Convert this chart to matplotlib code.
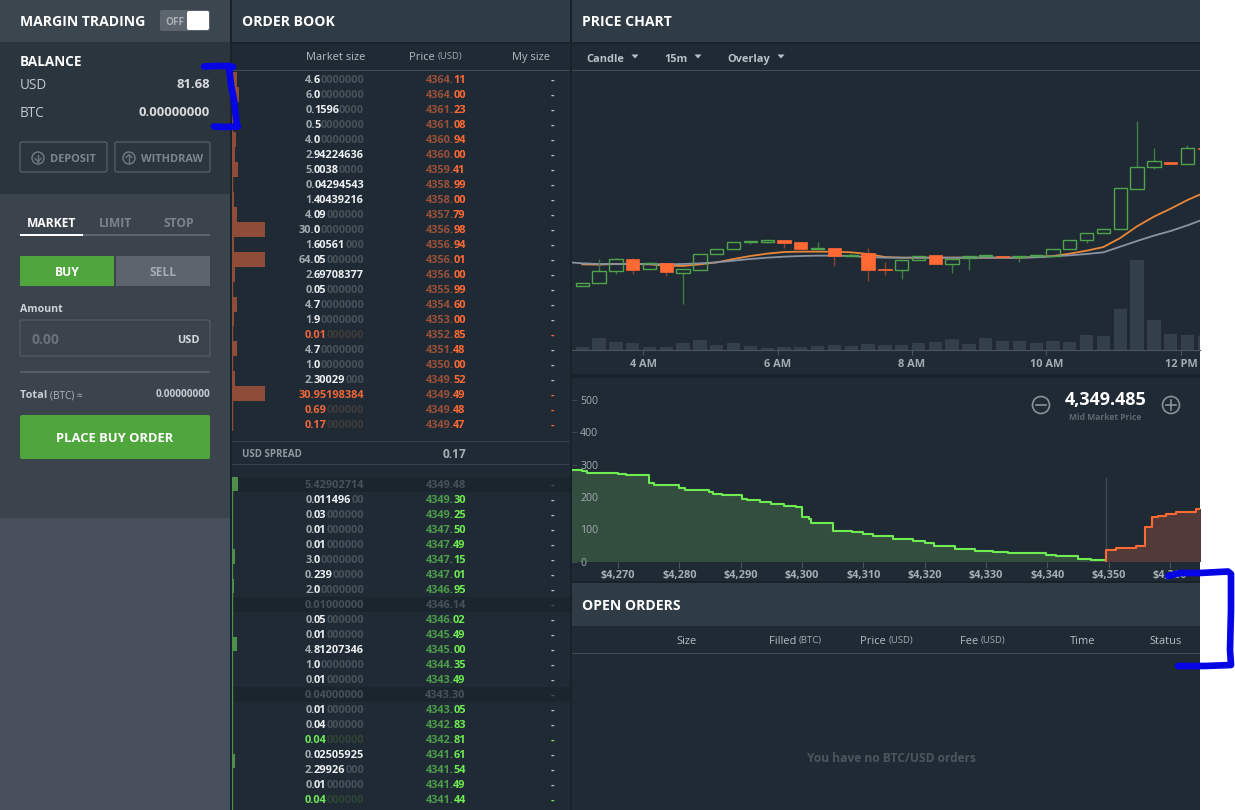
import matplotlib
matplotlib.use("Agg")
import matplotlib.pyplot as plt
from matplotlib.patches import Rectangle, FancyBboxPatch, Circle, Polygon
from matplotlib.font_manager import FontProperties

W, H = 1235, 810
plt.rcParams['font.family'] = ['Open Sans', 'DejaVu Sans']

# ---------- order book data ----------
ask_sizes = ["4.6", "6.0", "0.1596", "0.5", "4.0", "2.94224636", "5.0038", "0.04294543",
             "1.40439216", "4.09", "30.0", "1.60561", "64.05", "2.69708377", "0.05", "4.7",
             "1.9", "0.01", "4.7", "1.0", "2.30029", "30.95198384", "0.69", "0.17"]
ask_prices = ["4364.11", "4364.00", "4361.23", "4361.08", "4360.94", "4360.00", "4359.41", "4358.99",
              "4358.00", "4357.79", "4356.98", "4356.94", "4356.01", "4356.00", "4355.99", "4354.60",
              "4353.00", "4352.85", "4351.48", "4350.00", "4349.52", "4349.49", "4349.48", "4349.47"]
ask_mine = [17, 21, 22, 23]
bid_sizes = ["5.42902714", "0.011496", "0.03", "0.01", "0.01", "3.0", "0.239", "2.0", "0.01", "0.05",
             "0.01", "4.81207346", "1.0", "0.01", "0.04", "0.01", "0.04", "0.04", "0.02505925",
             "2.29926", "0.01", "0.04"]
bid_prices = ["4349.48", "4349.30", "4349.25", "4347.50", "4347.49", "4347.15", "4347.01", "4346.95",
              "4346.14", "4346.02", "4345.49", "4345.00", "4344.35", "4343.49", "4343.30", "4343.05",
              "4342.83", "4342.81", "4341.61", "4341.54", "4341.49", "4341.44"]
bid_mine = [17, 21]
bid_faded = [0, 8, 14]

# ---------- candle data (axis has no printed scale) ----------
candle_hours = [3.097, 3.347, 3.597, 3.847, 4.097, 4.347, 4.597, 4.847, 5.097, 5.347, 5.597, 5.847, 6.097,
                6.347, 6.597, 6.847, 7.097, 7.347, 7.597, 7.847, 8.097, 8.347, 8.597, 8.847, 9.097, 9.347,
                9.597, 9.847, 10.097, 10.347, 10.597, 10.847, 11.097, 11.347, 11.597, 11.847, 12.097, 12.347]
candle_open = [4471, 4481, 4516, 4553, 4522, 4540, 4510, 4521, 4567, 4582, 4603, 4605, 4609, 4603, 4584,
               4585, 4562, 4572, 4522, 4519, 4549, 4564, 4539, 4555, 4561, 4563, 4559, 4561, 4563, 4582,
               4609, 4630, 4643, 4764, 4829, 4845, 4837, 4886]
candle_close = [4482, 4517, 4553, 4521, 4540, 4513, 4522, 4567, 4583, 4603, 4608, 4609, 4602, 4584, 4586,
                4563, 4565, 4521, 4519, 4549, 4563, 4539, 4554, 4563, 4564, 4559, 4563, 4564, 4583, 4609,
                4630, 4644, 4765, 4830, 4846, 4837, 4886, 4884]
candle_high = [4482, 4553, 4556, 4557, 4544, 4540, 4522, 4567, 4583, 4603, 4608, 4609, 4609, 4603, 4603,
               4585, 4571, 4586, 4543, 4549, 4563, 4564, 4557, 4563, 4564, 4563, 4563, 4564, 4583, 4609,
               4630, 4644, 4765, 4967, 4886, 4845, 4895, 4886]
candle_low = [4471, 4481, 4509, 4509, 4522, 4503, 4419, 4521, 4567, 4582, 4599, 4602, 4586, 4582, 4584,
              4533, 4562, 4487, 4505, 4493, 4549, 4539, 4510, 4521, 4561, 4559, 4543, 4561, 4563, 4582,
              4602, 4630, 4643, 4764, 4824, 4837, 4837, 4884]
volumes = [9, 35, 24, 20, 9, 9, 20, 30, 14, 22, 12, 7, 9, 8, 11, 15, 12, 19, 14, 14, 20, 23, 33, 19, 35,
           26, 26, 20, 28, 25, 46, 43, 123, 269, 90, 49, 46, 42]
overlay_orange = [4537, 4536, 4538, 4538, 4537, 4533, 4532, 4537, 4543, 4553, 4562, 4569, 4574, 4575, 4575,
                  4575, 4573, 4568, 4559, 4557, 4557, 4557, 4557, 4557, 4557, 4557, 4557, 4559, 4562, 4569,
                  4578, 4589, 4616, 4651, 4680, 4704, 4730, 4752]
overlay_gray = [4540, 4538, 4538, 4538, 4538, 4537, 4538, 4540, 4543, 4548, 4553, 4557, 4560, 4562, 4563,
                4563, 4562, 4559, 4557, 4557, 4557, 4557, 4557, 4557, 4557, 4557, 4557, 4558, 4561, 4564,
                4568, 4573, 4590, 4607, 4623, 4637, 4654, 4673]
hour_ticks = [4, 6, 8, 10, 12]
hour_labels = ["4 AM", "6 AM", "8 AM", "10 AM", "12 PM"]

# ---------- depth data ----------
bid_levels = [4262.5, 4264.1, 4264.9, 4270.05, 4271.3, 4275.05, 4275.9, 4280, 4280.9, 4284.9, 4285.5, 4287,
              4290.2, 4291, 4293.2, 4295, 4297, 4299, 4300, 4301.2, 4301.4, 4305, 4308.1, 4310, 4311.5,
              4314.8, 4318.1, 4320, 4321.6, 4324.9, 4328.2, 4331.1, 4333.6, 4339.8, 4341.5, 4345, 4347.2, 4349.5]
bid_depth = [283, 279, 275, 271, 267, 244, 237, 228, 223, 215, 210, 205, 194, 190, 184, 177, 173, 169, 139,
             132, 118, 96, 91, 85, 80, 70, 64, 58, 49, 38, 33, 28, 25, 19, 16, 9, 5, 5]
ask_levels = [4349.5, 4351.2, 4354.5, 4356, 4357, 4358, 4359.4, 4361, 4364.2, 4365]
ask_depth = [35, 41, 48, 108, 137, 141, 148, 152, 162, 162]
depth_yticks = [0, 100, 200, 300, 400, 500]
depth_xticks = [4270, 4280, 4290, 4300, 4310, 4320, 4330, 4340, 4350, 4360]

# ---------- colours ----------
BODY = '#1f2a34'; HEAD = '#2f3c45'; DARK = '#18222a'
GREEN_BTN = '#4fa63c'; RED = '#ff6933'; LIME = '#6fec52'
PX = 0.72

fig = plt.figure(figsize=(W / 100, H / 100), dpi=100, facecolor='white')


def axpx(x0, y0, x1, y1, **kw):
    return fig.add_axes([x0 / W, 1 - y1 / H, (x1 - x0) / W, (y1 - y0) / H], **kw)


ui = axpx(0, 0, W, H)
ui.set_xlim(0, W); ui.set_ylim(H, 0); ui.axis('off')
renderer = fig.canvas.get_renderer()


def rect(x0, y0, x1, y1, c, z=1, **kw):
    ui.add_patch(Rectangle((x0, y0), x1 - x0, y1 - y0, facecolor=c, edgecolor='none', zorder=z, **kw))


def rrect(x0, y0, x1, y1, fc='none', ec='none', lw=0.8, r=2, z=2):
    ui.add_patch(FancyBboxPatch((x0 + r, y0 + r), x1 - x0 - 2 * r, y1 - y0 - 2 * r,
                                boxstyle=f"round,pad={r},rounding_size={r}", fc=fc, ec=ec, lw=lw, zorder=z))


def T(x, y, s, px=12, c='white', w='normal', ha='left', z=4):
    return ui.text(x, y, s, fontsize=px * PX, color=c, fontweight=w, ha=ha, va='center_baseline', zorder=z)


def ink(s, px, w):
    fp = FontProperties(family='Open Sans', size=px * PX, weight=w)
    return renderer.get_text_width_height_descent(s, fp, False)[0]


def advance(s, px, w):
    """Horizontal room a string takes, bearings included."""
    if not s:
        return 0.0
    bar = ink("|", px, w)
    bar_adv = ink("||", px, w) - bar
    bearing = (bar_adv - bar) / 2
    return ink(s + "|", px, w) - bar - bearing


def seg_right(xr, y, segs, px=11, w='bold'):
    """Draw coloured pieces so that the whole string ends at xr."""
    whole = "".join(s for s, _ in segs)
    total = advance(whole, px, w)
    done = ""
    for s, c in segs:
        nudge = 0.6 if s.endswith('.') else 0
        T(xr - total + advance(done, px, w) + nudge, y, s, px, c, w)
        done += s


def seg_left(x, y, segs):
    for s, px, c, w in segs:
        T(x, y, s, px, c, w)
        x += advance(s, px, w)


# ---------- panels ----------
rect(232, 0, 1200, H, BODY, 0)
rect(0, 0, 230, 42, '#3c464f')
rect(0, 42, 230, 194, '#2b353e')
rect(0, 194, 230, 518, '#3b444d')
rect(0, 518, 230, H, '#47505a')
rect(230, 0, 232, H, DARK, 2)
rect(570, 0, 572, H, DARK, 2)
rect(232, 0, 570, 42, HEAD)
rect(572, 0, 1200, 42, HEAD)
rect(232, 42, 1200, 44, DARK)
rect(572, 70, 1200, 71, '#414c55')
rect(232, 70, 570, 71, '#414c55')
rect(572, 374, 1200, 378, DARK)
rect(572, 581, 1200, 583, DARK)
rect(572, 583, 1200, 626, HEAD)
rect(572, 653, 1200, 654, '#414c55')
rect(232, 441, 570, 442, '#34404a')
rect(232, 464, 570, 465, '#34404a')

# ---------- left panel ----------
T(20, 21, "MARGIN TRADING", 14, 'white', 'bold')
rrect(160, 10, 210, 31, fc='#5c656e')
T(165, 21, "OFF", 10, '#a9b0b6', 'bold')
rrect(187, 11, 209, 30, fc='white', z=3)
T(20, 61, "BALANCE", 13.5, 'white', 'bold')
T(20, 83.5, "USD", 13.5, '#c3c9ce')
T(210, 83.5, "81.68", 13, '#d8dcdf', 'bold', ha='right')
T(20, 111.5, "BTC", 13.5, '#c3c9ce')
T(210, 111.5, "0.00000000", 13, '#d8dcdf', 'bold', ha='right')
rrect(20, 142, 107, 172, ec='#5e676f')
rrect(115, 142, 210, 172, ec='#5e676f')
for cx, dy in ((38, 1), (129, -1)):
    ui.add_patch(Circle((cx, 158), 6, fc='none', ec='#6e7780', lw=1.1, zorder=3))
    ui.plot([cx, cx], [158 - 3.5, 158 + 3.5], color='#6e7780', lw=1, zorder=3)
    ui.plot([cx - 3, cx, cx + 3], [158 + 0.5 * dy, 158 + 3.5 * dy, 158 + 0.5 * dy], color='#6e7780', lw=1, zorder=3)
T(50, 158, "DEPOSIT", 11, '#7d868e', 'bold')
T(141, 158, "WITHDRAW", 11, '#7d868e', 'bold')
T(27, 222, "MARKET", 12, 'white', 'bold')
T(99, 222, "LIMIT", 12, '#7b848c', 'bold')
T(163, 222, "STOP", 12, '#7b848c', 'bold')
rect(83, 234, 210, 236, '#5c656e', 2)
rect(20, 234, 83, 236, 'white', 2)
rect(20, 256, 114, 286, GREEN_BTN, 2)
rect(116, 256, 210, 286, '#5c656e', 2)
T(67, 271, "BUY", 12, 'white', 'bold', ha='center')
T(163, 271, "SELL", 12, '#a6acb2', 'bold', ha='center')
T(20, 308, "Amount", 10.5, '#d0d5da', 'bold')
rrect(20, 320, 210, 356, ec='#555e66')
T(31, 339, "0.00", 14, '#6b737a', 'bold')
T(200, 339, "USD", 11, '#d5d9dd', 'bold', ha='right')
rect(20, 371, 210, 373, '#555e66', 2)
seg_left(20, 394, [("Total ", 11, '#c7cdd2', 'bold'), ("(BTC) ≈", 10, '#b0b7bd', 'normal')])
T(210, 393, "0.00000000", 10, '#c7cdd2', 'bold', ha='right')
rrect(20, 415, 210, 459, fc=GREEN_BTN)
T(115, 437, "PLACE BUY ORDER", 13, 'white', 'bold', ha='center')

# ---------- order book ----------
T(242, 21, "ORDER BOOK", 14, 'white', 'bold')
T(365, 56, "Market size", 11, '#b6bec5', ha='right')
seg_left(408.7, 56, [("Price ", 11, '#b6bec5', 'normal'), ("(USD)", 9.5, '#a3abb2', 'normal')])
T(550, 56, "My size", 11, '#b6bec5', ha='right')
T(242, 453, "USD SPREAD", 9.8, '#8f99a2', 'bold')
T(466, 453, "0.17", 12, '#a6aeb5', 'bold', ha='right')


def draw_rows(sizes, prices, y0, mine, faded, dim_price, bright_price, mine_col, zero_mine):
    for i, (s, p) in enumerate(zip(sizes, prices)):
        y = y0 + 15 * i
        a, b = s.split('.')
        zeros = '0' * (8 - len(b))
        pa, pb = p.split('.')
        if i in faded:
            rect(232, y - 7.5, 570, y + 7.5, '#1a252e', 1)
            fc = '#46515a'
            seg_right(364, y, [(s + zeros, fc)])
            seg_right(465.7, y, [(p, fc)])
            T(554, y, "-", 11, fc, 'bold', ha='right')
            continue
        if i in mine:
            segs = [(a + '.' + b, mine_col), (zeros, zero_mine)]
            dash = mine_col
        else:
            segs = [(a + '.', '#a4acb3'), (b, '#eef1f3'), (zeros, '#47525b')]
            dash = '#b5bcc2'
        seg_right(364, y, segs)
        seg_right(465.7, y, [(pa + '.', dim_price), (pb, bright_price)])
        T(554, y, "-", 11, dash, 'bold', ha='right')


draw_rows(ask_sizes, ask_prices, 79, ask_mine, [], '#9a5038', RED, '#f0673a', '#3f3c3c')
draw_rows(bid_sizes, bid_prices, 484, bid_mine, bid_faded, '#4e9b4a', LIME, '#6fe858', '#2f4437')

# depth bars beside the book
ax_a = axpx(232, 71.5, 267.7, 431.5)
ax_a.patch.set_alpha(0); ax_a.axis('off')
ax_a.set_xlim(0, 32); ax_a.set_ylim(23.5, -0.5)
ax_a.barh(range(len(ask_sizes)), [min(float(s), 30) for s in ask_sizes], height=1, color='#8f4c38')
ax_a.plot([0.2, 0.2], [-0.5, 23.5], color='#8f4c38', lw=1)

ax_b = axpx(232, 476.5, 267.7, H)
ax_b.patch.set_alpha(0); ax_b.axis('off')
ax_b.set_xlim(0, 32); ax_b.set_ylim(22.37, -0.5)
ax_b.barh(range(len(bid_sizes)), [min(float(s), 30) for s in bid_sizes], height=1, color='#4e8f4c')
ax_b.plot([0.2, 0.2], [-0.5, 22.37], color='#4e8f4c', lw=1)

# ---------- toolbar ----------
T(582, 21, "PRICE CHART", 14, 'white', 'bold')
for x, s, tx in ((586, "Candle", 635), (664, "15m", 698), (727, "Overlay", 781)):
    T(x, 58, s, 11, '#b8c2ca', 'bold')
    ui.add_patch(Polygon([(tx - 3.5, 54.5), (tx + 3.5, 54.5), (tx, 58.5)], fc='#b8c2ca', ec='none', zorder=4))

# ---------- candle chart ----------
ax_v = axpx(572, 71, 1200, 350)
ax_v.patch.set_alpha(0)
ax_v.set_xlim(2.944, 12.283); ax_v.set_ylim(0, 837)
ax_v.bar(candle_hours, volumes, width=0.198, color='#333f49')
for s in ('left', 'right', 'top'):
    ax_v.spines[s].set_visible(False)
ax_v.spines['bottom'].set_color('#4a555e')
ax_v.set_yticks([])
ax_v.set_xticks(hour_ticks)
ax_v.set_xticklabels(hour_labels, fontsize=11 * PX, fontweight='bold', color='#a5adb4')
ax_v.tick_params(axis='x', color='#4a555e', length=5 * PX, width=0.8, pad=3.2)

ax_c = axpx(572, 71, 1200, 350)
ax_c.patch.set_alpha(0); ax_c.axis('off')
ax_c.set_xlim(2.944, 12.283); ax_c.set_ylim(4280, 5117)
ax_c.plot(candle_hours, overlay_orange, color='#e8873a', lw=1.3, zorder=1)
ax_c.plot([2.847] + candle_hours, [4544] + overlay_gray, color='#8b93a3', lw=1.3, zorder=1.1)
for h, o, c, hi, lo in zip(candle_hours, candle_open, candle_close, candle_high, candle_low):
    up = c >= o
    wick = '#3f7d48' if up else '#8a4632'
    ax_c.vlines(h, max(o, c), hi, color=wick, lw=1.0, zorder=2)
    ax_c.vlines(h, lo, min(o, c), color=wick, lw=1.0, zorder=2)
    if up:
        ax_c.bar(h, c - o, bottom=o, width=0.198, facecolor='none', edgecolor='#4fa44c', lw=1.0, zorder=3)
    else:
        ax_c.bar(h, c - o, bottom=o, width=0.198, facecolor=RED, edgecolor=RED, lw=0.5, zorder=3)

# ---------- depth chart ----------
ax_d = axpx(572, 378, 1200, 561.5)
ax_d.patch.set_alpha(0)
ax_d.set_xlim(4262.5, 4364.9); ax_d.set_ylim(0, 568.8)
ax_d.fill_between(bid_levels, bid_depth, step='post', color='#334d3e', lw=0)
ax_d.fill_between(ask_levels, ask_depth, step='post', color='#523a38', lw=0)
ax_d.vlines(4349.5, 0, 263, color='#3d4852', lw=1)
ax_d.step(bid_levels + [4349.5], bid_depth + [0], where='post', color=LIME, lw=1.5)
ax_d.step([4349.5] + ask_levels, [0] + ask_depth, where='post', color=RED, lw=1.5)
for s in ax_d.spines.values():
    s.set_visible(False)
ax_d.set_xticks(depth_xticks)
ax_d.set_xticklabels([f"${v:,}" for v in depth_xticks], fontsize=11 * PX, fontweight='bold', color='#a5adb4')
ax_d.tick_params(axis='x', color='#4a555e', length=6 * PX, width=0.8, pad=2)
ax_d.set_yticks(depth_yticks)
ax_d.set_yticklabels([str(v) for v in depth_yticks], fontsize=10.5 * PX, color='#a5adb4', ha='left')
ax_d.tick_params(axis='y', direction='in', color='#3d4852', length=5 * PX, width=0.8, pad=-5.8)

T(1106, 398, "4,349.485", 18, 'white', 'bold', ha='center')
T(1105.5, 417, "Mid Market Price", 8.5, '#5d6870', 'bold', ha='center')
for cx, plus in ((1041, False), (1171, True)):
    ui.add_patch(Circle((cx, 405), 8.5, fc='none', ec='#8a9299', lw=1.2, zorder=4))
    ui.plot([cx - 5, cx + 5], [405, 405], color='#8a9299', lw=1.2, zorder=4)
    if plus:
        ui.plot([cx, cx], [400, 410], color='#8a9299', lw=1.2, zorder=4)

# ---------- open orders ----------
T(582, 605, "OPEN ORDERS", 14, 'white', 'bold')
HC = '#b6bec5'; SC = '#a3abb2'
T(686.5, 640, "Size", 11, HC, ha='center')
seg_left(768.7, 640, [("Filled ", 11, HC, 'normal'), ("(BTC)", 9.5, SC, 'normal')])
seg_left(860.3, 640, [("Price ", 11, HC, 'normal'), ("(USD)", 9.5, SC, 'normal')])
seg_left(959.7, 640, [("Fee ", 11, HC, 'normal'), ("(USD)", 9.5, SC, 'normal')])
T(1083, 640, "Time", 11, HC, ha='center')
T(1165.5, 640, "Status", 11, HC, ha='center')
T(891.5, 757.5, "You have no BTC/USD orders", 12, '#4b565f', 'bold', ha='center')

# ---------- hand-drawn blue brackets ----------
ov = axpx(0, 0, W, H)
ov.patch.set_alpha(0); ov.axis('off')
ov.set_xlim(0, W); ov.set_ylim(H, 0)
BLUE = '#0505e6'
ROUND = dict(solid_capstyle='round', solid_joinstyle='round')
ov.plot([204, 215, 230, 233], [66.5, 66, 66, 67], color=BLUE, lw=4.8, **ROUND)
ov.plot([229, 231, 234, 236, 237], [67, 85, 100, 118, 126], color=BLUE, lw=4.8, **ROUND)
ov.plot([238, 225, 214], [126.5, 127, 126.5], color=BLUE, lw=4.8, **ROUND)
ov.plot([1168, 1180, 1200, 1228, 1231, 1231, 1230, 1231, 1205, 1178],
        [576, 573, 573, 571.5, 574, 610, 650, 665, 666, 666], color=BLUE, lw=4.8, **ROUND)

fig.savefig('out.png', dpi=100, facecolor='white')
